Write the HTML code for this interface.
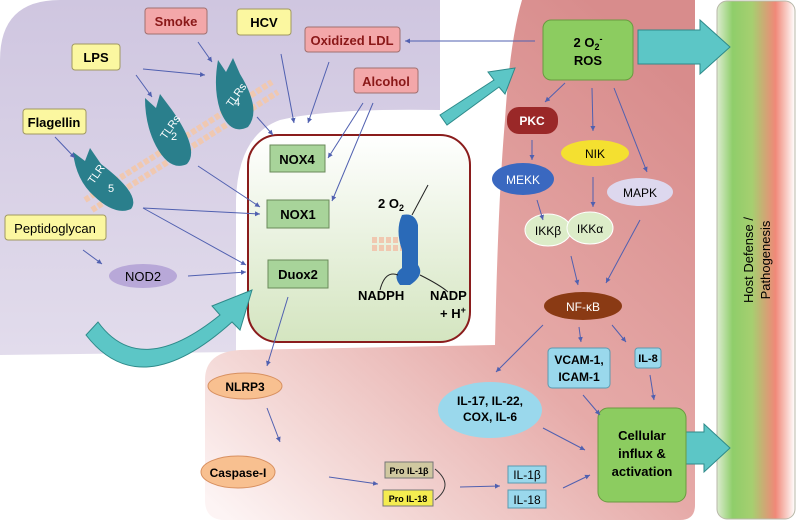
<!DOCTYPE html>
<html><head><meta charset="utf-8"><style>
html,body{margin:0;padding:0;background:#fff}
svg{display:block}
text{font-family:"Liberation Sans",sans-serif}
.b{font-weight:bold}
</style></head><body>
<svg width="800" height="525" viewBox="0 0 800 525" xmlns="http://www.w3.org/2000/svg">
<defs>
<linearGradient id="pur" x1="0" y1="0" x2="0" y2="1"><stop offset="0" stop-color="#cfc6e0"/><stop offset="1" stop-color="#e2dcec"/></linearGradient>
<linearGradient id="pink" x1="0.85" y1="0.05" x2="0.05" y2="1"><stop offset="0" stop-color="#d88c8c"/><stop offset="0.5" stop-color="#e6aaa8"/><stop offset="0.8" stop-color="#f3d6d4"/><stop offset="1" stop-color="#fdf4f4"/></linearGradient>
<linearGradient id="bar" x1="0" y1="0" x2="1" y2="0"><stop offset="0" stop-color="#dcecd0"/><stop offset="0.2" stop-color="#8fce6a"/><stop offset="0.45" stop-color="#a6cf70"/><stop offset="0.75" stop-color="#f08878"/><stop offset="1" stop-color="#ffffff"/></linearGradient>
<linearGradient id="inner" x1="0" y1="0" x2="0" y2="1"><stop offset="0" stop-color="#ffffff"/><stop offset="1" stop-color="#d4e5c0"/></linearGradient>
<marker id="a" markerWidth="6" markerHeight="6" refX="5" refY="3" orient="auto"><path d="M0,0.5 L5,3 L0,5.5z" fill="#5060b0"/></marker>
</defs>
<!-- regions -->
<path d="M0,60 Q0,0 60,0 L440,0 L440,110 Q330,108 280,120 Q238,135 236,200 L236,352 L0,355 Z" fill="url(#pur)"/>
<path d="M522,0 L695,0 L695,505 Q695,520 680,520 L225,520 Q205,520 205,500 L205,380 Q205,352 240,350 L495,345 Q498,200 505,120 Q510,40 522,0 Z" fill="url(#pink)"/>
<rect x="717" y="1" width="78" height="518" rx="10" fill="url(#bar)" stroke="#b8b8a8"/>
<text transform="translate(757,260) rotate(-90)" font-size="13" text-anchor="middle"><tspan x="0" dy="-4">Host Defense /</tspan><tspan x="0" dy="17">Pathogenesis</tspan></text>
<!-- inner box -->
<rect x="248" y="135" width="222" height="207" rx="30" fill="url(#inner)" stroke="#8a1c1c" stroke-width="2"/>
<!-- teal arrows -->
<path d="M638,30 L700,30 L700,20 L730,47 L700,74 L700,64 L638,64 Z" fill="#5cc6c6" stroke="#2e8a8a"/>
<path d="M686,432 L704,432 L704,424 L730,448 L704,472 L704,464 L686,464 Z" fill="#5cc6c6" stroke="#2e8a8a"/>
<path d="M440,115 L494,80 L488,72 L515,68 L505,94 L499,87 L447,125 Z" fill="#5cc6c6" stroke="#2e8a8a"/>
<path d="M98,322 Q140,380 220,315 L212,306 L252,290 L240,330 L232,322 Q140,405 86,335 Z" fill="#5cc6c6" stroke="#2e8a8a"/>
<!-- lipid bilayer -->
<g stroke="#f0c8b0" stroke-width="6" stroke-dasharray="5 2" fill="none">
<line x1="85" y1="200" x2="272" y2="82"/><line x1="92" y1="210" x2="278" y2="92"/>
<line x1="372" y1="240" x2="405" y2="240"/><line x1="372" y1="248" x2="405" y2="248"/>
</g>
<!-- TLRs -->
<g fill="#2a7f8c">
<path d="M218,60 L226,72 L233,58 L240,74 Q262,110 248,127 Q230,136 220,110 Q213,88 218,60Z"/>
<path d="M145,98 L156,108 L160,94 L172,110 Q200,150 187,164 Q170,172 156,146 Q145,125 145,98Z"/>
<path d="M73,152 L85,161 L90,148 L101,164 Q142,195 131,209 Q115,216 94,196 Q76,180 73,152Z"/>
</g>
<g fill="#fff" font-size="11" text-anchor="middle">
<text transform="translate(236,95) rotate(-55)" x="0" y="4">TLRs</text><text x="237" y="106">4</text>
<text transform="translate(170,127) rotate(-55)" x="0" y="4">TLRs</text><text x="174" y="140">2</text>
<text transform="translate(96,174) rotate(-55)" x="0" y="4">TLR</text><text x="111" y="192">5</text>
</g>
<!-- protein -->
<path d="M402,215 Q415,212 418,225 L418,265 Q425,275 410,285 L400,285 Q392,275 402,268 L402,250 Q395,230 402,215Z" fill="#2a6ab8"/>
<path d="M412,215 L428,185" stroke="#222" fill="none"/><path d="M398,275 Q385,270 380,290" stroke="#222" fill="none"/><path d="M420,275 Q440,285 448,292" stroke="#222" fill="none"/>
<text x="378" y="208" class="b" font-size="13">2 O<tspan font-size="9" dy="3">2</tspan></text>
<text x="358" y="300" class="b" font-size="13">NADPH</text>
<text x="430" y="300" class="b" font-size="13">NADP</text>
<text x="440" y="318" class="b" font-size="13">+ H<tspan font-size="9" dy="-5">+</tspan></text>
<!-- boxes -->
<g stroke="#a07070" stroke-width="1">
<rect x="145" y="8" width="62" height="26" rx="3" fill="#f3a7a9"/>
<rect x="305" y="27" width="95" height="25" rx="3" fill="#f3a7a9"/>
<rect x="354" y="68" width="64" height="25" rx="3" fill="#f3a7a9"/>
</g>
<g stroke="#a09860" stroke-width="1" fill="#fbf7a0">
<rect x="237" y="9" width="54" height="26" rx="3"/>
<rect x="72" y="44" width="48" height="26" rx="3"/>
<rect x="23" y="109" width="63" height="25" rx="3"/>
<rect x="5" y="215" width="101" height="25" rx="3"/>
</g>
<g stroke="#6a8a5a" fill="#a8d49a">
<rect x="270" y="145" width="55" height="27"/><rect x="267" y="200" width="62" height="28"/><rect x="268" y="260" width="60" height="28"/>
</g>
<g class="b" font-size="13" text-anchor="middle" fill="#8a1818">
<text x="176" y="26">Smoke</text><text x="352" y="45">Oxidized LDL</text><text x="386" y="86">Alcohol</text>
</g>
<g font-size="13" text-anchor="middle">
<text x="264" y="27" class="b">HCV</text><text x="96" y="62" class="b">LPS</text><text x="54" y="127" class="b">Flagellin</text><text x="55" y="233">Peptidoglycan</text>
<text x="297" y="164" class="b">NOX4</text><text x="298" y="219" class="b">NOX1</text><text x="298" y="279" class="b">Duox2</text>
</g>
<ellipse cx="143" cy="276" rx="34" ry="12" fill="#b8a8d8"/><text x="143" y="281" font-size="13" text-anchor="middle">NOD2</text>
<!-- ROS -->
<rect x="543" y="20" width="90" height="60" rx="8" fill="#8ccc60" stroke="#6a9a40"/>
<text x="588" y="47" class="b" font-size="13" text-anchor="middle">2 O<tspan font-size="9" dy="3">2</tspan><tspan font-size="9" dy="-8">-</tspan></text>
<text x="588" y="65" class="b" font-size="13" text-anchor="middle">ROS</text>
<rect x="507" y="107" width="51" height="27" rx="12" fill="#9a2828"/><text x="532" y="125" class="b" font-size="12" fill="#fff" text-anchor="middle">PKC</text>
<ellipse cx="595" cy="153" rx="34" ry="13" fill="#f4e030"/><text x="595" y="158" font-size="12" text-anchor="middle">NIK</text>
<ellipse cx="523" cy="179" rx="31" ry="16" fill="#3a68c0"/><text x="523" y="184" font-size="12" fill="#fff" text-anchor="middle">MEKK</text>
<ellipse cx="640" cy="192" rx="33" ry="14" fill="#ddd8ee"/><text x="640" y="197" font-size="12" text-anchor="middle">MAPK</text>
<ellipse cx="548" cy="230" rx="23" ry="16" fill="#dcecc8" stroke="#fff"/><text x="548" y="235" font-size="12" text-anchor="middle">IKKβ</text>
<ellipse cx="590" cy="228" rx="23" ry="16" fill="#dcecc8" stroke="#fff"/><text x="590" y="233" font-size="12" text-anchor="middle">IKKα</text>
<ellipse cx="583" cy="306" rx="39" ry="14" fill="#8a3a14"/><text x="583" y="311" font-size="12" fill="#fff" text-anchor="middle">NF-κB</text>
<rect x="548" y="348" width="62" height="40" rx="4" fill="#9ad8ec" stroke="#5a9ab0"/>
<text x="579" y="364" class="b" font-size="12" text-anchor="middle">VCAM-1,</text><text x="579" y="381" class="b" font-size="12" text-anchor="middle">ICAM-1</text>
<rect x="635" y="348" width="26" height="20" rx="3" fill="#9ad8ec" stroke="#5a9ab0"/><text x="648" y="362" class="b" font-size="11" text-anchor="middle">IL-8</text>
<ellipse cx="490" cy="410" rx="52" ry="28" fill="#9ad8ec"/>
<text x="490" y="405" class="b" font-size="12" text-anchor="middle">IL-17, IL-22,</text><text x="490" y="421" class="b" font-size="12" text-anchor="middle">COX, IL-6</text>
<rect x="598" y="408" width="88" height="94" rx="10" fill="#8ccc60" stroke="#6a9a40"/>
<text x="642" y="440" class="b" font-size="13" text-anchor="middle">Cellular</text><text x="642" y="458" class="b" font-size="13" text-anchor="middle">influx &amp;</text><text x="642" y="476" class="b" font-size="13" text-anchor="middle">activation</text>
<ellipse cx="245" cy="386" rx="37" ry="13" fill="#f8c090" stroke="#d89060"/><text x="245" y="391" class="b" font-size="12" text-anchor="middle">NLRP3</text>
<ellipse cx="238" cy="472" rx="37" ry="16" fill="#f8c090" stroke="#d89060"/><text x="238" y="477" class="b" font-size="12" text-anchor="middle">Caspase-I</text>
<rect x="385" y="462" width="48" height="16" fill="#d0c8a0" stroke="#777"/><text x="409" y="474" class="b" font-size="9" text-anchor="middle">Pro IL-1β</text>
<rect x="383" y="490" width="50" height="16" fill="#f4ec50" stroke="#777"/><text x="408" y="502" class="b" font-size="9" text-anchor="middle">Pro IL-18</text>
<path d="M435,469 Q455,485 435,500" stroke="#333" fill="none"/>
<rect x="508" y="466" width="38" height="17" fill="#9ad8ec" stroke="#5a9ab0"/><text x="527" y="479" font-size="12" text-anchor="middle">IL-1β</text>
<rect x="508" y="490" width="38" height="18" fill="#9ad8ec" stroke="#5a9ab0"/><text x="527" y="504" font-size="12" text-anchor="middle">IL-18</text>
<!-- arrows -->
<g stroke="#5060b0" stroke-width="1" marker-end="url(#a)">
<line x1="198" y1="42" x2="212" y2="62"/><line x1="143" y1="69" x2="205" y2="75"/><line x1="136" y1="75" x2="152" y2="97"/>
<line x1="281" y1="54" x2="294" y2="123"/><line x1="329" y1="62" x2="308" y2="123"/><line x1="257" y1="117" x2="273" y2="135"/>
<line x1="363" y1="103" x2="328" y2="158"/><line x1="373" y1="103" x2="332" y2="201"/>
<line x1="198" y1="166" x2="260" y2="207"/><line x1="143" y1="208" x2="260" y2="214"/><line x1="143" y1="208" x2="246" y2="265"/>
<line x1="55" y1="137" x2="75" y2="158"/><line x1="83" y1="250" x2="102" y2="264"/><line x1="188" y1="276" x2="246" y2="272"/>
<line x1="535" y1="41" x2="405" y2="41"/>
<line x1="565" y1="83" x2="545" y2="102"/><line x1="592" y1="88" x2="593" y2="131"/><line x1="614" y1="88" x2="647" y2="172"/>
<line x1="532" y1="140" x2="532" y2="160"/><line x1="593" y1="177" x2="593" y2="207"/><line x1="537" y1="200" x2="543" y2="220"/>
<line x1="571" y1="256" x2="578" y2="285"/><line x1="640" y1="220" x2="606" y2="283"/>
<line x1="543" y1="325" x2="496" y2="372"/><line x1="579" y1="327" x2="581" y2="342"/><line x1="612" y1="325" x2="626" y2="342"/>
<line x1="583" y1="395" x2="600" y2="415"/><line x1="650" y1="375" x2="654" y2="400"/><line x1="543" y1="428" x2="585" y2="450"/>
<line x1="288" y1="297" x2="267" y2="366"/><line x1="267" y1="408" x2="280" y2="442"/><line x1="329" y1="477" x2="378" y2="484"/>
<line x1="460" y1="487" x2="500" y2="486"/><line x1="563" y1="488" x2="590" y2="475"/>
</g>
</svg>
</body></html>
